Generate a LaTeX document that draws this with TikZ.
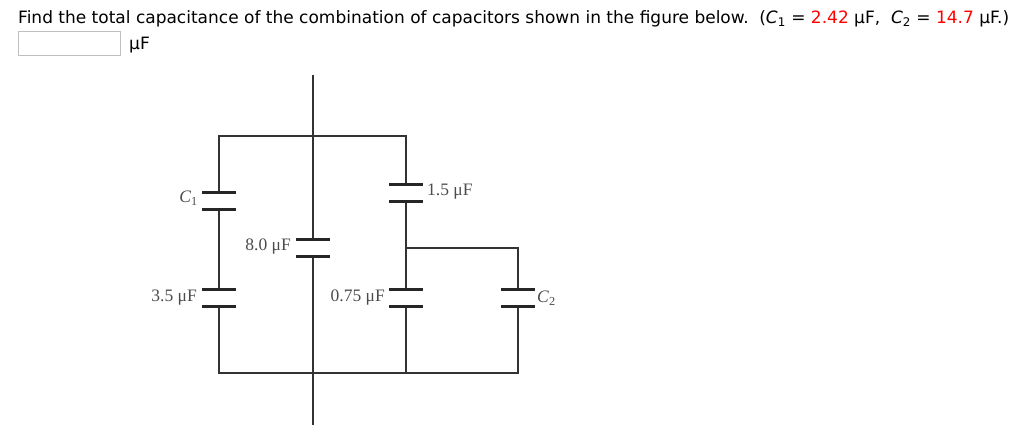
\documentclass[tikz,border=0pt]{standalone}
\usepackage{fontspec}
\setmainfont{Liberation Serif}
\newfontfamily\hdr{DejaVu Sans}
\begin{document}
\begin{tikzpicture}[x=1pt,y=-1pt,
  wire/.style={line width=1.4pt,color=black!80},
  plate/.style={line width=3pt,color=black!85},
  lbl/.style={font=\fontsize{17.5}{17.5}\selectfont,text=black!70,inner sep=1pt}]
\useasboundingbox (0,0) rectangle (1024,428);
\node[anchor=base west,inner sep=0,font=\hdr\fontsize{17}{18}\selectfont] (q) at (18,24) {Find the total capacitance of the combination of capacitors shown in the figure below.\ \ (\textit{C}\textsubscript{1} = \textcolor{red}{2.42} μF,\ \ \textit{C}\textsubscript{2} = \textcolor{red}{14.7} μF.)};
\draw[black!25,line width=0.8pt] (18,31) rectangle (120,55);
\node[anchor=base west,inner sep=0,font=\hdr\fontsize{17}{18}\selectfont] (u) at (129,49) {μF};
% wires
\draw[wire] (313,75) -- (313,239) (313,256) -- (313,425);
\draw[wire] (219,192) -- (219,136) -- (406,136) -- (406,184);
\draw[wire] (219,209) -- (219,289) (219,306) -- (219,373) -- (518,373) -- (518,306);
\draw[wire] (406,201) -- (406,289) (406,306) -- (406,373);
\draw[wire] (406,248) -- (518,248) -- (518,289);
% plates
\foreach \x/\a/\b in {219/192/209, 406/184/201, 313/239/256, 219/289/306, 406/289/306, 518/289/306}
  \draw[plate] (\x-17,\a) -- (\x+17,\a) (\x-17,\b) -- (\x+17,\b);
\node[lbl,anchor=east] (c1) at (199,198) {\textit{C}\textsubscript{1}};
\node[lbl,anchor=west] (c15) at (426,192) {1.5 μF};
\node[lbl,anchor=east] (c8) at (292,247) {8.0 μF};
\node[lbl,anchor=east] (c35) at (198,298) {3.5 μF};
\node[lbl,anchor=east] (c075) at (386,298) {0.75 μF};
\node[lbl,anchor=west] (c2) at (536,298) {\textit{C}\textsubscript{2}};
\end{tikzpicture}
\end{document}
